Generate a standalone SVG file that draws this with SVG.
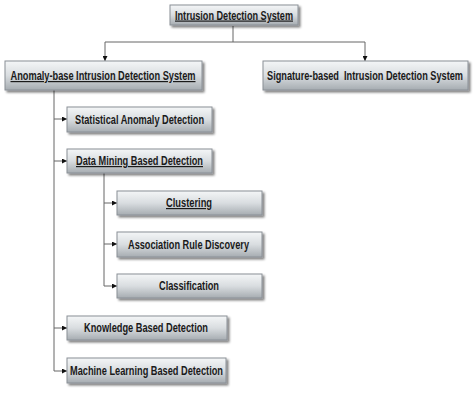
<svg xmlns="http://www.w3.org/2000/svg" width="474" height="408" viewBox="0 0 474 408">
<defs>
<linearGradient id="g" x1="0" y1="0" x2="0" y2="1">
<stop offset="0" stop-color="#f4f6f7"/>
<stop offset="0.5" stop-color="#d9dde0"/>
<stop offset="1" stop-color="#a6acb1"/>
</linearGradient>
<filter id="sh" x="-10%" y="-30%" width="130%" height="180%">
<feDropShadow dx="2" dy="2" stdDeviation="1.2" flood-color="#000" flood-opacity="0.5"/>
</filter>
<marker id="ar" viewBox="0 0 8 8" refX="8" refY="4" markerWidth="5" markerHeight="5" orient="auto" markerUnits="userSpaceOnUse">
<path d="M0,0 L8,4 L0,8 z" fill="#111"/>
</marker>
</defs>
<style>
.box{fill:url(#g);stroke:#8a9096;stroke-width:1;filter:url(#sh)}
.t{font-family:"Liberation Sans",Arial,sans-serif;font-weight:bold;font-size:12px;fill:#1a1a1a;text-anchor:middle}
.u{text-decoration:underline}
.c{fill:none;stroke:#666;stroke-width:1}
.a{marker-end:url(#ar)}
</style>
<rect width="474" height="408" fill="#fff"/>
<g id="connectors">
<path class="c" d="M233,26 V42 M105,42 H365"/>
<path class="c a" d="M105,42 V61"/>
<path class="c a" d="M365,42 V61"/>
<path class="c" d="M54,90 V371"/>
<path class="c a" d="M54,119 H67"/>
<path class="c a" d="M54,161 H67"/>
<path class="c a" d="M54,328 H67"/>
<path class="c a" d="M54,371 H67"/>
<path class="c" d="M104,173 V286"/>
<path class="c a" d="M104,203 H117"/>
<path class="c a" d="M104,244 H117"/>
<path class="c a" d="M104,286 H117"/>
</g>
<g id="ids"><rect class="box" x="170" y="5" width="128" height="20"/><text class="t u" x="234" y="19.5" textLength="118" lengthAdjust="spacingAndGlyphs">Intrusion Detection System</text></g>
<g id="anomaly"><rect class="box" x="5" y="61" width="197" height="29"/><text class="t u" x="103" y="80" textLength="185" lengthAdjust="spacingAndGlyphs">Anomaly-base Intrusion Detection System</text></g>
<g id="signature"><rect class="box" x="263" y="61" width="205" height="29"/><text class="t" x="365" y="80" textLength="196" lengthAdjust="spacingAndGlyphs" xml:space="preserve">Signature-based  Intrusion Detection System</text></g>
<g id="statistical"><rect class="box" x="67" y="107" width="145" height="25"/><text class="t" x="139.5" y="123.5" textLength="129" lengthAdjust="spacingAndGlyphs">Statistical Anomaly Detection</text></g>
<g id="datamining"><rect class="box" x="67" y="149" width="145" height="24"/><text class="t u" x="139.5" y="165" textLength="127" lengthAdjust="spacingAndGlyphs">Data Mining Based Detection</text></g>
<g id="clustering"><rect class="box" x="117" y="191" width="145" height="24"/><text class="t u" x="189" y="207" textLength="46" lengthAdjust="spacingAndGlyphs">Clustering</text></g>
<g id="association"><rect class="box" x="117" y="232" width="145" height="25"/><text class="t" x="188.5" y="248.5" textLength="121" lengthAdjust="spacingAndGlyphs">Association Rule Discovery</text></g>
<g id="classification"><rect class="box" x="117" y="274" width="145" height="24"/><text class="t" x="189" y="290" textLength="60" lengthAdjust="spacingAndGlyphs">Classification</text></g>
<g id="knowledge"><rect class="box" x="67" y="316" width="160" height="24"/><text class="t" x="146" y="332" textLength="124" lengthAdjust="spacingAndGlyphs">Knowledge Based Detection</text></g>
<g id="machine"><rect class="box" x="67" y="358" width="159" height="25"/><text class="t" x="146.5" y="375" textLength="153" lengthAdjust="spacingAndGlyphs">Machine Learning Based Detection</text></g>
</svg>
